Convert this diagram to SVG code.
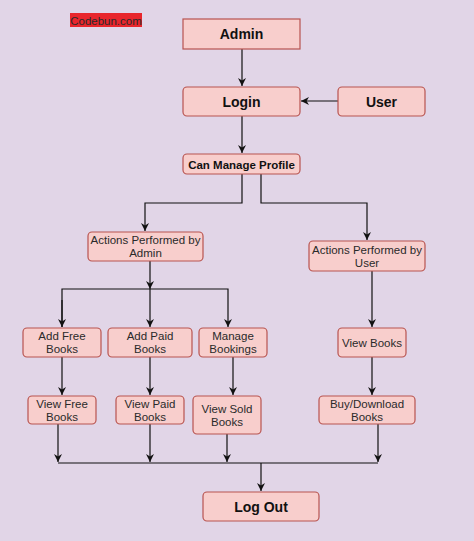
<svg xmlns="http://www.w3.org/2000/svg" width="474" height="541" viewBox="0 0 474 541">
<style>
.n{fill:#f8cecc;stroke:#b85450;stroke-width:1.2}
.t{font-family:"Liberation Sans",Arial,sans-serif;font-size:11.5px;fill:#2a2a2a;text-anchor:middle}
.b{font-weight:bold;font-size:14px;fill:#111}
.s{font-weight:bold;font-size:11.5px;fill:#111}
.e{fill:none;stroke:#111;stroke-width:1.2}
</style>
<defs>
<marker id="a" viewBox="0 0 10 10" refX="10" refY="5" markerWidth="8" markerHeight="8" markerUnits="userSpaceOnUse" orient="auto">
<path d="M0,0 L10,5 L0,10 L3,5 Z" fill="#111"/>
</marker>
</defs>
<rect width="474" height="541" fill="#e1d5e7"/>
<g id="codebun">
<rect x="70" y="13" width="72" height="14" fill="#e8262c"/>
<text class="t" x="106" y="24.5">Codebun.com</text>
</g>
<g id="connectors">
<path class="e" d="M242,49 V86" marker-end="url(#a)"/>
<path class="e" d="M338,101 H301" marker-end="url(#a)"/>
<path class="e" d="M242,116 V153" marker-end="url(#a)"/>
<path class="e" d="M242,174 V203 H145 V231" marker-end="url(#a)"/>
<path class="e" d="M261,174 V203 H367 V240" marker-end="url(#a)"/>
<path class="e" d="M150,261 V289" marker-end="url(#a)"/>
<path class="e" d="M62,327 V289 H228 V327" marker-end="url(#a)"/>
<path class="e" d="M62,300 V327" marker-end="url(#a)"/>
<path class="e" d="M150,289 V327" marker-end="url(#a)"/>
<path class="e" d="M372,271 V327" marker-end="url(#a)"/>
<path class="e" d="M62,357 V395" marker-end="url(#a)"/>
<path class="e" d="M150,357 V395" marker-end="url(#a)"/>
<path class="e" d="M233,357 V395" marker-end="url(#a)"/>
<path class="e" d="M372,357 V395" marker-end="url(#a)"/>
<path class="e" d="M58,424 V462" marker-end="url(#a)"/>
<path class="e" d="M150,424 V462" marker-end="url(#a)"/>
<path class="e" d="M227,434 V462" marker-end="url(#a)"/>
<path class="e" d="M378,424 V462" marker-end="url(#a)"/>
<path class="e" d="M58,463 H378"/>
<path class="e" d="M261,463 V491" marker-end="url(#a)"/>
</g>
<g id="admin"><rect class="n" x="183" y="19" width="117" height="30"/><text class="t b" x="241.5" y="39">Admin</text></g>
<g id="login"><rect class="n" x="183" y="87" width="117" height="29" rx="4"/><text class="t b" x="241.5" y="106.5">Login</text></g>
<g id="user"><rect class="n" x="338" y="87" width="87" height="29" rx="4"/><text class="t b" x="381.5" y="106.5">User</text></g>
<g id="manage-profile"><rect class="n" x="183" y="154" width="117" height="20" rx="4"/><text class="t s" x="241.5" y="168.5">Can Manage Profile</text></g>
<g id="actions-admin"><rect class="n" x="88" y="232" width="115" height="29" rx="4"/><text class="t" x="145.5" y="244">Actions Performed by</text><text class="t" x="145.5" y="257">Admin</text></g>
<g id="actions-user"><rect class="n" x="309" y="241" width="116" height="30" rx="4"/><text class="t" x="367" y="254">Actions Performed by</text><text class="t" x="367" y="267">User</text></g>
<g id="add-free"><rect class="n" x="23" y="328" width="78" height="29" rx="4"/><text class="t" x="62" y="340">Add Free</text><text class="t" x="62" y="353">Books</text></g>
<g id="add-paid"><rect class="n" x="108" y="328" width="84" height="29" rx="4"/><text class="t" x="150" y="340">Add Paid</text><text class="t" x="150" y="353">Books</text></g>
<g id="manage-bookings"><rect class="n" x="199" y="328" width="68" height="29" rx="4"/><text class="t" x="233" y="340">Manage</text><text class="t" x="233" y="353">Bookings</text></g>
<g id="view-books"><rect class="n" x="338" y="328" width="68" height="29" rx="4"/><text class="t" x="372" y="347">View Books</text></g>
<g id="view-free"><rect class="n" x="28" y="396" width="68" height="28" rx="4"/><text class="t" x="62" y="408">View Free</text><text class="t" x="62" y="421">Books</text></g>
<g id="view-paid"><rect class="n" x="116" y="396" width="68" height="28" rx="4"/><text class="t" x="150" y="408">View Paid</text><text class="t" x="150" y="421">Books</text></g>
<g id="view-sold"><rect class="n" x="193" y="396" width="68" height="38" rx="4"/><text class="t" x="227" y="413">View Sold</text><text class="t" x="227" y="426">Books</text></g>
<g id="buy-download"><rect class="n" x="319" y="396" width="96" height="28" rx="4"/><text class="t" x="367" y="408">Buy/Download</text><text class="t" x="367" y="421">Books</text></g>
<g id="logout"><rect class="n" x="203" y="492" width="116" height="29" rx="4"/><text class="t b" x="261" y="511.5">Log Out</text></g>
</svg>
